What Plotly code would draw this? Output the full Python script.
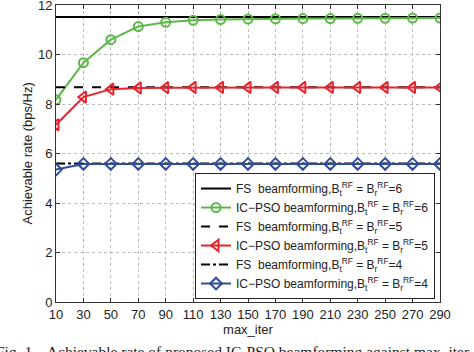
import plotly.graph_objects as go

max_iter = [10, 30, 50, 70, 90, 110, 130, 150, 170, 190, 210, 230, 250, 270, 290]
fs6 = [11.52] * len(max_iter)
pso6 = [8.17, 9.67, 10.6, 11.13, 11.3, 11.38, 11.41, 11.43, 11.44, 11.45, 11.45, 11.46, 11.46, 11.47, 11.47]
fs5 = [8.68] * len(max_iter)
pso5 = [7.16, 8.28, 8.6, 8.65, 8.66, 8.67, 8.67, 8.67, 8.67, 8.67, 8.67, 8.67, 8.67, 8.67, 8.67]
fs4 = [5.6] * len(max_iter)
pso4 = [5.35, 5.58, 5.58, 5.58, 5.58, 5.58, 5.58, 5.58, 5.58, 5.58, 5.58, 5.58, 5.58, 5.58, 5.58]
x_ticks = list(range(10, 291, 20))
y_ticks = [0, 2, 4, 6, 8, 10, 12]

GREEN = "#5cb848"
RED = "#e8232d"
BLUE = "#2f4b9e"

def lab(kind, n):
    return f"{kind} beamforming,B<sub>t</sub><sup>RF</sup> = B<sub>r</sub><sup>RF</sup>={n}"

fig = go.Figure()
fig.add_trace(go.Scatter(x=max_iter, y=fs6, mode="lines", name=lab("FS ", 6),
                         line=dict(color="black", width=2)))
fig.add_trace(go.Scatter(x=max_iter, y=pso6, mode="lines+markers", name=lab("IC\u2212PSO", 6),
                         line=dict(color=GREEN, width=2),
                         marker=dict(symbol="circle-open", size=9, color=GREEN, line=dict(width=2))))
fig.add_trace(go.Scatter(x=max_iter, y=fs5, mode="lines", name=lab("FS ", 5),
                         line=dict(color="black", width=2, dash="dash")))
fig.add_trace(go.Scatter(x=max_iter, y=pso5, mode="lines+markers", name=lab("IC\u2212PSO", 5),
                         line=dict(color=RED, width=2),
                         marker=dict(symbol="triangle-left-open", size=10, color=RED, line=dict(width=2))))
fig.add_trace(go.Scatter(x=max_iter, y=fs4, mode="lines", name=lab("FS ", 4),
                         line=dict(color="black", width=2, dash="dashdot")))
fig.add_trace(go.Scatter(x=max_iter, y=pso4, mode="lines+markers", name=lab("IC\u2212PSO", 4),
                         line=dict(color=BLUE, width=2),
                         marker=dict(symbol="diamond-open", size=9, color=BLUE, line=dict(width=2))))

axis_common = dict(showline=True, linecolor="#333", linewidth=1, mirror="ticks",
                   ticks="inside", ticklen=4, tickcolor="#333",
                   showgrid=True, gridcolor="#bbbbbb", griddash="dot", gridwidth=1,
                   zeroline=False, tickfont=dict(size=13, color="#222"),
                   ticklabeloverflow="allow", automargin=False)

fig.update_xaxes(range=[10, 290], tickvals=x_ticks,
                 title=dict(text="max_iter", font=dict(size=13, color="#222"), standoff=4),
                 **axis_common)
fig.update_yaxes(range=[0, 12], tickvals=y_ticks, **axis_common)

fig.add_annotation(text="Achievable rate (bps/Hz)", textangle=-90,
                   xref="paper", yref="paper", x=-29 / 384, y=0.5,
                   xanchor="center", yanchor="middle", showarrow=False,
                   font=dict(size=13, color="#222"))

fig.add_annotation(text="Fig. 1.   Achievable rate of proposed IC-PSO beamforming against max_iter",
                   xref="paper", yref="paper", x=-62 / 384, y=-50 / 297, xanchor="left", yanchor="middle",
                   showarrow=False, font=dict(family="Liberation Serif", size=15.5, color="#222"))

fig.update_layout(
    width=474, height=352,
    margin=dict(l=56, r=34, t=5, b=50, autoexpand=False),
    paper_bgcolor="white", plot_bgcolor="white",
    font=dict(family="Liberation Sans, Arial, sans-serif", size=13, color="#222"),
    legend=dict(x=0.987, y=0.01, xanchor="right", yanchor="bottom",
                bordercolor="#222", borderwidth=1, bgcolor="white",
                font=dict(size=12), tracegroupgap=0, itemwidth=30),
    showlegend=True,
)

fig.write_html("out.html")
